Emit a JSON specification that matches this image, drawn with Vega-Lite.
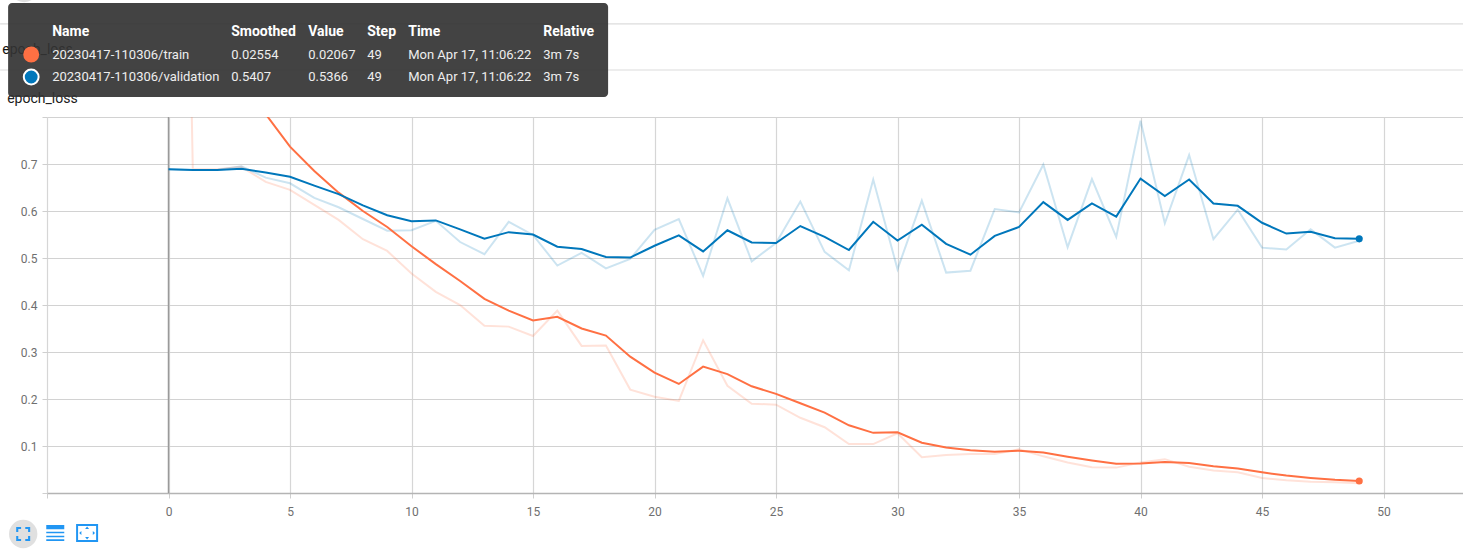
{"$schema":"https://vega.github.io/schema/vega-lite/v6.json","width":1416,"height":376,"autosize":{"type":"none"},"padding":{"left":47,"top":117,"right":0,"bottom":62},"background":"white","config":{"view":{"stroke":null},"font":"Roboto"},
"datasets":{"runs":[
{"run":"train","step":0,"value":3.4,"smoothed":3.4},{"run":"train","step":1,"value":0.689,"smoothed":1.65},{"run":"train","step":2,"value":0.689,"smoothed":1.15},{"run":"train","step":3,"value":0.694,"smoothed":0.93},{"run":"train","step":4,"value":0.662,"smoothed":0.806},{"run":"train","step":5,"value":0.645,"smoothed":0.737},{"run":"train","step":6,"value":0.613,"smoothed":0.685},{"run":"train","step":7,"value":0.581,"smoothed":0.639},{"run":"train","step":8,"value":0.54,"smoothed":0.6},{"run":"train","step":9,"value":0.515,"smoothed":0.566},{"run":"train","step":10,"value":0.467,"smoothed":0.525},{"run":"train","step":11,"value":0.428,"smoothed":0.487},{"run":"train","step":12,"value":0.4,"smoothed":0.451},{"run":"train","step":13,"value":0.356,"smoothed":0.413},{"run":"train","step":14,"value":0.354,"smoothed":0.388},{"run":"train","step":15,"value":0.334,"smoothed":0.367},{"run":"train","step":16,"value":0.388,"smoothed":0.375},{"run":"train","step":17,"value":0.313,"smoothed":0.35},{"run":"train","step":18,"value":0.314,"smoothed":0.335},{"run":"train","step":19,"value":0.22,"smoothed":0.29},{"run":"train","step":20,"value":0.205,"smoothed":0.256},{"run":"train","step":21,"value":0.196,"smoothed":0.232},{"run":"train","step":22,"value":0.325,"smoothed":0.269},{"run":"train","step":23,"value":0.228,"smoothed":0.253},{"run":"train","step":24,"value":0.19,"smoothed":0.227},{"run":"train","step":25,"value":0.188,"smoothed":0.211},{"run":"train","step":26,"value":0.16,"smoothed":0.191},{"run":"train","step":27,"value":0.14,"smoothed":0.171},{"run":"train","step":28,"value":0.104,"smoothed":0.144},{"run":"train","step":29,"value":0.104,"smoothed":0.128},{"run":"train","step":30,"value":0.127,"smoothed":0.129},{"run":"train","step":31,"value":0.076,"smoothed":0.107},{"run":"train","step":32,"value":0.081,"smoothed":0.097},{"run":"train","step":33,"value":0.083,"smoothed":0.091},{"run":"train","step":34,"value":0.083,"smoothed":0.088},{"run":"train","step":35,"value":0.093,"smoothed":0.09},{"run":"train","step":36,"value":0.078,"smoothed":0.086},{"run":"train","step":37,"value":0.065,"smoothed":0.077},{"run":"train","step":38,"value":0.055,"smoothed":0.069},{"run":"train","step":39,"value":0.054,"smoothed":0.062},{"run":"train","step":40,"value":0.065,"smoothed":0.063},{"run":"train","step":41,"value":0.072,"smoothed":0.066},{"run":"train","step":42,"value":0.056,"smoothed":0.064},{"run":"train","step":43,"value":0.048,"smoothed":0.057},{"run":"train","step":44,"value":0.044,"smoothed":0.052},{"run":"train","step":45,"value":0.032,"smoothed":0.044},{"run":"train","step":46,"value":0.027,"smoothed":0.037},{"run":"train","step":47,"value":0.024,"smoothed":0.032},{"run":"train","step":48,"value":0.023,"smoothed":0.028},{"run":"train","step":49,"value":0.02067,"smoothed":0.02554},
{"run":"validation","step":0,"value":0.689,"smoothed":0.689},{"run":"validation","step":1,"value":0.687,"smoothed":0.687},{"run":"validation","step":2,"value":0.687,"smoothed":0.687},{"run":"validation","step":3,"value":0.695,"smoothed":0.69},{"run":"validation","step":4,"value":0.671,"smoothed":0.682},{"run":"validation","step":5,"value":0.659,"smoothed":0.673},{"run":"validation","step":6,"value":0.628,"smoothed":0.654},{"run":"validation","step":7,"value":0.608,"smoothed":0.636},{"run":"validation","step":8,"value":0.583,"smoothed":0.612},{"run":"validation","step":9,"value":0.558,"smoothed":0.591},{"run":"validation","step":10,"value":0.559,"smoothed":0.578},{"run":"validation","step":11,"value":0.579,"smoothed":0.58},{"run":"validation","step":12,"value":0.534,"smoothed":0.561},{"run":"validation","step":13,"value":0.508,"smoothed":0.541},{"run":"validation","step":14,"value":0.577,"smoothed":0.555},{"run":"validation","step":15,"value":0.549,"smoothed":0.55},{"run":"validation","step":16,"value":0.484,"smoothed":0.524},{"run":"validation","step":17,"value":0.511,"smoothed":0.519},{"run":"validation","step":18,"value":0.478,"smoothed":0.502},{"run":"validation","step":19,"value":0.498,"smoothed":0.501},{"run":"validation","step":20,"value":0.56,"smoothed":0.526},{"run":"validation","step":21,"value":0.583,"smoothed":0.548},{"run":"validation","step":22,"value":0.462,"smoothed":0.514},{"run":"validation","step":23,"value":0.627,"smoothed":0.559},{"run":"validation","step":24,"value":0.493,"smoothed":0.533},{"run":"validation","step":25,"value":0.532,"smoothed":0.532},{"run":"validation","step":26,"value":0.62,"smoothed":0.568},{"run":"validation","step":27,"value":0.513,"smoothed":0.545},{"run":"validation","step":28,"value":0.474,"smoothed":0.517},{"run":"validation","step":29,"value":0.667,"smoothed":0.577},{"run":"validation","step":30,"value":0.476,"smoothed":0.537},{"run":"validation","step":31,"value":0.622,"smoothed":0.571},{"run":"validation","step":32,"value":0.469,"smoothed":0.53},{"run":"validation","step":33,"value":0.473,"smoothed":0.507},{"run":"validation","step":34,"value":0.604,"smoothed":0.547},{"run":"validation","step":35,"value":0.597,"smoothed":0.566},{"run":"validation","step":36,"value":0.699,"smoothed":0.619},{"run":"validation","step":37,"value":0.523,"smoothed":0.581},{"run":"validation","step":38,"value":0.668,"smoothed":0.616},{"run":"validation","step":39,"value":0.545,"smoothed":0.588},{"run":"validation","step":40,"value":0.792,"smoothed":0.669},{"run":"validation","step":41,"value":0.574,"smoothed":0.632},{"run":"validation","step":42,"value":0.719,"smoothed":0.667},{"run":"validation","step":43,"value":0.54,"smoothed":0.616},{"run":"validation","step":44,"value":0.603,"smoothed":0.611},{"run":"validation","step":45,"value":0.522,"smoothed":0.575},{"run":"validation","step":46,"value":0.518,"smoothed":0.552},{"run":"validation","step":47,"value":0.561,"smoothed":0.556},{"run":"validation","step":48,"value":0.522,"smoothed":0.542},{"run":"validation","step":49,"value":0.5366,"smoothed":0.5407}],
"tip":[{"row":"header","name":"Name","smoothed":"Smoothed","value":"Value","step":"Step","time":"Time","relative":"Relative"},{"row":"train","name":"20230417-110306/train","smoothed":"0.02554","value":"0.02067","step":"49","time":"Mon Apr 17, 11:06:22","relative":"3m 7s"},{"row":"validation","name":"20230417-110306/validation","smoothed":"0.5407","value":"0.5366","step":"49","time":"Mon Apr 17, 11:06:22","relative":"3m 7s"}],
"one":[{"k":1}]},
"resolve":{"scale":{"y":"independent"}},
"layer":[
{"layer":[
{"data":{"name":"runs"},"mark":{"type":"line","clip":true,"strokeWidth":2,"opacity":0.2},"encoding":{
"x":{"field":"step","type":"quantitative","title":null,"scale":{"domain":[-5,53.27],"nice":false,"zero":false},"axis":{"values":[-5,0,5,10,15,20,25,30,35,40,45,50],"labelExpr":"datum.value<0?'':datum.label","grid":true,"gridColor":"#d6d6d6","gridWidth":1.2,"domainColor":"#b4b4b4","domainWidth":1.5,"tickColor":"#cfcfcf","tickSize":5,"labelColor":"#6f6f6f","labelFont":"Roboto","labelFontSize":12,"labelPadding":8,"labelFlush":false,"labelOverlap":false}},
"y":{"field":"value","type":"quantitative","title":null,"scale":{"domain":[0,0.8],"nice":false,"zero":false},"axis":{"values":[0,0.1,0.2,0.3,0.4,0.5,0.6,0.7,0.8],"labelExpr":"(datum.value<0.05||datum.value>0.75)?'':datum.label","grid":true,"gridColor":"#d2d2d2","gridWidth":1.2,"domain":false,"tickColor":"#cfcfcf","tickSize":5,"labelColor":"#6f6f6f","labelFont":"Roboto","labelFontSize":12,"labelPadding":5}},
"color":{"field":"run","type":"nominal","legend":null,"scale":{"domain":["train","validation"],"range":["#ff7043","#0077bb"]}},"detail":{"field":"run"}}},
{"data":{"name":"one"},"mark":{"type":"rule","color":"#9a9a9a","strokeWidth":1.5},"encoding":{"x":{"datum":0},"y":{"datum":0},"y2":{"datum":0.8}}},
{"data":{"name":"runs"},"mark":{"type":"line","clip":true,"strokeWidth":2},"encoding":{"x":{"field":"step","type":"quantitative"},"y":{"field":"smoothed","type":"quantitative"},"color":{"field":"run","type":"nominal","legend":null},"detail":{"field":"run"}}},
{"data":{"name":"runs"},"transform":[{"filter":"datum.step===49"}],"mark":{"type":"point","filled":true,"opacity":1,"size":50},"encoding":{"x":{"field":"step","type":"quantitative"},"y":{"field":"smoothed","type":"quantitative"},"color":{"field":"run","type":"nominal","legend":null}}},
{"data":{"name":"one"},"mark":{"type":"rule","color":"#dcdcdc","strokeWidth":1.2},"encoding":{"x":{"datum":-6.93},"x2":{"datum":53.27},"y":{"datum":0.998}}},
{"data":{"name":"one"},"mark":{"type":"rule","color":"#dcdcdc","strokeWidth":1.2},"encoding":{"x":{"datum":-6.93},"x2":{"datum":53.27},"y":{"datum":0.9}}},
{"data":{"name":"one"},"mark":{"type":"text","text":"epoch_loss","font":"Roboto","fontSize":14,"align":"left","baseline":"middle","color":"#111111"},"encoding":{"x":{"datum":-6.84},"y":{"datum":0.9426}}},
{"data":{"name":"one"},"mark":{"type":"text","text":"epoch_loss","font":"Roboto","fontSize":14,"align":"left","baseline":"middle","color":"#212121"},"encoding":{"x":{"datum":-6.64},"y":{"datum":0.838}}},
{"data":{"name":"one"},"mark":{"type":"point","filled":true,"shape":"circle","size":804,"color":"#e0e0e0","opacity":1},"encoding":{"x":{"datum":-5.94},"y":{"datum":1.0745}}},
{"data":{"name":"one"},"mark":{"type":"point","filled":true,"shape":"circle","size":804,"color":"#e0e0e0","opacity":1},"encoding":{"x":{"datum":-5.98},"y":{"datum":-0.0872}}},
{"data":{"name":"one"},"mark":{"type":"point","filled":true,"size":196,"color":"#2196f3","opacity":1,"shape":"M-1,-1H-0.3V-0.7H-0.7V-0.3H-1Z M0.3,-1H1V-0.3H0.7V-0.7H0.3Z M1,0.3V1H0.3V0.7H0.7V0.3Z M-1,0.3H-0.7V0.7H-0.3V1H-1Z"},"encoding":{"x":{"datum":-5.98},"y":{"datum":-0.0872}}},
{"data":{"name":"one"},"mark":{"type":"point","filled":true,"size":324,"color":"#2196f3","opacity":1,"shape":"M-1,-0.89H1V-0.41H-1Z M-1,-0.14H1V0.03H-1Z M-1,0.3H1V0.48H-1Z M-1,0.7H1V0.89H-1Z"},"encoding":{"x":{"datum":-4.66},"y":{"datum":-0.0851}}},
{"data":{"name":"one"},"mark":{"type":"point","filled":true,"size":484,"color":"#2196f3","opacity":1,"shape":"M-1,-0.82H1V0.82H-1Z M-0.82,-0.64V0.64H0.82V-0.64Z M0,-0.6L0.18,-0.36H-0.18Z M0,0.6L-0.18,0.36H0.18Z M-0.72,0L-0.52,-0.18V0.18Z M0.72,0L0.52,0.18V-0.18Z"},"encoding":{"x":{"datum":-3.35},"y":{"datum":-0.0851}}},
{"data":{"name":"one"},"mark":{"type":"rect","color":"#333333","opacity":0.92,"cornerRadius":4},"encoding":{"x":{"datum":-6.6},"x2":{"datum":18.09},"y":{"datum":1.0426},"y2":{"datum":0.8426}}}
]},
{"data":{"name":"tip"},"encoding":{"y":{"field":"row","type":"nominal","title":null,"axis":null,"scale":{"type":"point","domain":["header","train","validation"],"range":[-85,-40],"padding":0}}},"layer":[
{"transform":[{"filter":"datum.row==='train'"}],"mark":{"type":"point","filled":true,"shape":"circle","size":254,"color":"#ff7043","opacity":1},"encoding":{"x":{"datum":-5.65}}},
{"transform":[{"filter":"datum.row==='validation'"}],"mark":{"type":"point","filled":true,"shape":"circle","size":220,"fill":"#0077bb","stroke":"#ffffff","strokeWidth":2,"opacity":1},"encoding":{"x":{"datum":-5.65}}},
{"transform":[{"filter":"datum.row==='header'"}],"mark":{"type":"text","font":"Roboto","fontSize":14,"fontWeight":"bold","align":"left","baseline":"middle","color":"#ffffff"},"encoding":{"x":{"datum":-4.786},"text":{"field":"name"}}},
{"transform":[{"filter":"datum.row==='header'"}],"mark":{"type":"text","font":"Roboto","fontSize":14,"fontWeight":"bold","align":"left","baseline":"middle","color":"#ffffff"},"encoding":{"x":{"datum":2.58},"text":{"field":"smoothed"}}},
{"transform":[{"filter":"datum.row==='header'"}],"mark":{"type":"text","font":"Roboto","fontSize":14,"fontWeight":"bold","align":"left","baseline":"middle","color":"#ffffff"},"encoding":{"x":{"datum":5.749},"text":{"field":"value"}}},
{"transform":[{"filter":"datum.row==='header'"}],"mark":{"type":"text","font":"Roboto","fontSize":14,"fontWeight":"bold","align":"left","baseline":"middle","color":"#ffffff"},"encoding":{"x":{"datum":8.177},"text":{"field":"step"}}},
{"transform":[{"filter":"datum.row==='header'"}],"mark":{"type":"text","font":"Roboto","fontSize":14,"fontWeight":"bold","align":"left","baseline":"middle","color":"#ffffff"},"encoding":{"x":{"datum":9.864},"text":{"field":"time"}}},
{"transform":[{"filter":"datum.row==='header'"}],"mark":{"type":"text","font":"Roboto","fontSize":14,"fontWeight":"bold","align":"left","baseline":"middle","color":"#ffffff"},"encoding":{"x":{"datum":15.42},"text":{"field":"relative"}}},
{"transform":[{"filter":"datum.row!=='header'"}],"mark":{"type":"text","font":"Roboto","fontSize":13,"align":"left","baseline":"middle","color":"#eeeeee"},"encoding":{"x":{"datum":-4.786},"text":{"field":"name"}}},
{"transform":[{"filter":"datum.row!=='header'"}],"mark":{"type":"text","font":"Roboto","fontSize":13,"align":"left","baseline":"middle","color":"#eeeeee"},"encoding":{"x":{"datum":2.58},"text":{"field":"smoothed"}}},
{"transform":[{"filter":"datum.row!=='header'"}],"mark":{"type":"text","font":"Roboto","fontSize":13,"align":"left","baseline":"middle","color":"#eeeeee"},"encoding":{"x":{"datum":5.749},"text":{"field":"value"}}},
{"transform":[{"filter":"datum.row!=='header'"}],"mark":{"type":"text","font":"Roboto","fontSize":13,"align":"left","baseline":"middle","color":"#eeeeee"},"encoding":{"x":{"datum":8.177},"text":{"field":"step"}}},
{"transform":[{"filter":"datum.row!=='header'"}],"mark":{"type":"text","font":"Roboto","fontSize":13,"align":"left","baseline":"middle","color":"#eeeeee"},"encoding":{"x":{"datum":9.864},"text":{"field":"time"}}},
{"transform":[{"filter":"datum.row!=='header'"}],"mark":{"type":"text","font":"Roboto","fontSize":13,"align":"left","baseline":"middle","color":"#eeeeee"},"encoding":{"x":{"datum":15.42},"text":{"field":"relative"}}}
]}
]}
